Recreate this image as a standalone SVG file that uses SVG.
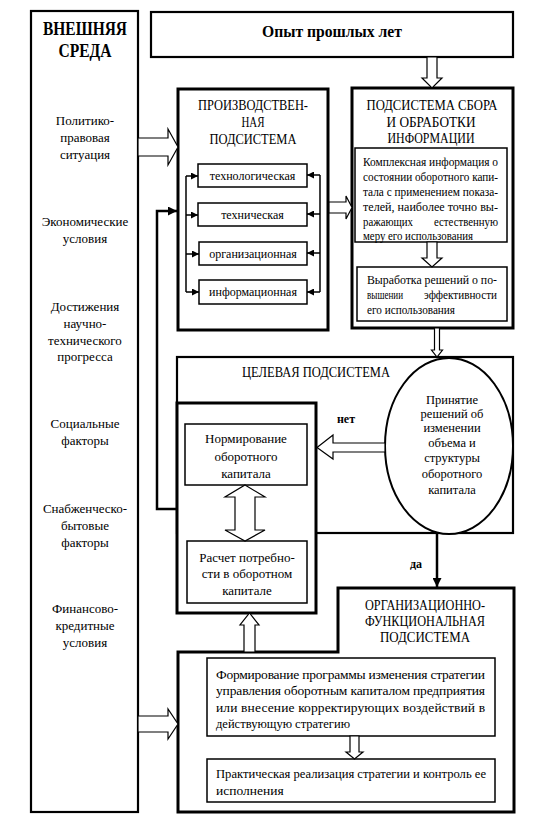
<svg xmlns="http://www.w3.org/2000/svg" width="553" height="819" viewBox="0 0 553 819">
<defs>
<style>
.dg-box{fill:#fff;stroke:#000;stroke-width:1.5}
.dg-thick{fill:#fff;stroke:#000;stroke-width:3}
.dg-med{fill:#fff;stroke:#000;stroke-width:2.2}
.dg-ha{fill:#fff;stroke:#000;stroke-width:1.2}
.dg-ln{fill:none;stroke:#000;stroke-width:1.5}
.dg-fl{fill:none;stroke:#000;stroke-width:2.5}
</style>
<marker id="ah" viewBox="0 0 10 10" refX="10" refY="5" markerWidth="7" markerHeight="7" markerUnits="userSpaceOnUse" orient="auto">
<path d="M0,0 L10,5 L0,10 z" fill="#000"/>
</marker>
<marker id="ahb" viewBox="0 0 10 10" refX="10" refY="5" markerWidth="9" markerHeight="9" markerUnits="userSpaceOnUse" orient="auto">
<path d="M0,0 L10,5 L0,10 z" fill="#000"/>
</marker>
</defs>
<rect width="553" height="819" fill="#fff"/>

<g id="env">
<rect x="31" y="11" width="107" height="801" class="dg-med"/>
<text x="85" y="35" font-family="Liberation Serif" font-weight="bold" font-size="18" text-anchor="middle" textLength="84" lengthAdjust="spacingAndGlyphs">ВНЕШНЯЯ</text>
<text x="85" y="57" font-family="Liberation Serif" font-weight="bold" font-size="18" text-anchor="middle" textLength="53" lengthAdjust="spacingAndGlyphs">СРЕДА</text>
<text x="85" y="125" font-family="Liberation Serif" font-size="13" text-anchor="middle">Политико-</text>
<text x="85" y="142" font-family="Liberation Serif" font-size="13" text-anchor="middle">правовая</text>
<text x="85" y="159" font-family="Liberation Serif" font-size="13" text-anchor="middle">ситуация</text>
<text x="85" y="226" font-family="Liberation Serif" font-size="13" text-anchor="middle">Экономические</text>
<text x="85" y="243" font-family="Liberation Serif" font-size="13" text-anchor="middle">условия</text>
<text x="85" y="311" font-family="Liberation Serif" font-size="13" text-anchor="middle">Достижения</text>
<text x="85" y="328" font-family="Liberation Serif" font-size="13" text-anchor="middle">научно-</text>
<text x="85" y="345" font-family="Liberation Serif" font-size="13" text-anchor="middle">технического</text>
<text x="85" y="361" font-family="Liberation Serif" font-size="13" text-anchor="middle">прогресса</text>
<text x="85" y="428" font-family="Liberation Serif" font-size="13" text-anchor="middle">Социальные</text>
<text x="85" y="445" font-family="Liberation Serif" font-size="13" text-anchor="middle">факторы</text>
<text x="85" y="513" font-family="Liberation Serif" font-size="13" text-anchor="middle">Снабженческо-</text>
<text x="85" y="530" font-family="Liberation Serif" font-size="13" text-anchor="middle">бытовые</text>
<text x="85" y="547" font-family="Liberation Serif" font-size="13" text-anchor="middle">факторы</text>
<text x="85" y="613" font-family="Liberation Serif" font-size="13" text-anchor="middle">Финансово-</text>
<text x="85" y="630" font-family="Liberation Serif" font-size="13" text-anchor="middle">кредитные</text>
<text x="85" y="647" font-family="Liberation Serif" font-size="13" text-anchor="middle">условия</text>
</g>

<g id="experience">
<rect x="151" y="12" width="362" height="45" class="dg-med"/>
<text x="332" y="37" font-family="Liberation Serif" font-weight="bold" font-size="16.5" text-anchor="middle" textLength="140" lengthAdjust="spacingAndGlyphs">Опыт прошлых лет</text>
</g>

<g id="production">
<rect x="178" y="89" width="150" height="241" class="dg-thick"/>
<text x="253" y="110" font-family="Liberation Serif" font-size="15" text-anchor="middle" textLength="110" lengthAdjust="spacingAndGlyphs">ПРОИЗВОДСТВЕН-</text>
<text x="253" y="127" font-family="Liberation Serif" font-size="15" text-anchor="middle" textLength="23" lengthAdjust="spacingAndGlyphs">НАЯ</text>
<text x="253" y="144" font-family="Liberation Serif" font-size="15" text-anchor="middle" textLength="87" lengthAdjust="spacingAndGlyphs">ПОДСИСТЕМА</text>
<rect x="198" y="164" width="109" height="23" class="dg-box"/>
<rect x="198" y="203" width="109" height="23" class="dg-box"/>
<rect x="199" y="242" width="108" height="23" class="dg-box"/>
<rect x="199" y="280" width="108" height="24" class="dg-box"/>
<text x="252.5" y="180" font-family="Liberation Serif" font-size="12" text-anchor="middle">технологическая</text>
<text x="252.5" y="219" font-family="Liberation Serif" font-size="12" text-anchor="middle">техническая</text>
<text x="253" y="258" font-family="Liberation Serif" font-size="12" text-anchor="middle">организационная</text>
<text x="253" y="296" font-family="Liberation Serif" font-size="12" text-anchor="middle">информационная</text>
</g>

<g id="info">
<rect x="352" y="88" width="161" height="240" class="dg-thick"/>
<text x="432" y="110" font-family="Liberation Serif" font-size="15" text-anchor="middle" textLength="131" lengthAdjust="spacingAndGlyphs">ПОДСИСТЕМА СБОРА</text>
<text x="431" y="127" font-family="Liberation Serif" font-size="15" text-anchor="middle" textLength="89" lengthAdjust="spacingAndGlyphs">И ОБРАБОТКИ</text>
<text x="431" y="143" font-family="Liberation Serif" font-size="15" text-anchor="middle" textLength="87" lengthAdjust="spacingAndGlyphs">ИНФОРМАЦИИ</text>
<rect x="355" y="148" width="152" height="94" class="dg-box"/>
<text x="363" y="166" font-family="Liberation Serif" font-size="11.5" textLength="135" lengthAdjust="spacingAndGlyphs">Комплексная информация о</text>
<text x="363" y="181" font-family="Liberation Serif" font-size="11.5" textLength="135" lengthAdjust="spacingAndGlyphs">состоянии оборотного капи-</text>
<text x="363" y="196" font-family="Liberation Serif" font-size="11.5" textLength="135" lengthAdjust="spacingAndGlyphs">тала с применением показа-</text>
<text x="363" y="211" font-family="Liberation Serif" font-size="11.5" textLength="135" lengthAdjust="spacingAndGlyphs">телей, наиболее точно вы-</text>
<text x="363" y="226" font-family="Liberation Serif" font-size="11.5" textLength="50" lengthAdjust="spacingAndGlyphs">ражающих</text>
<text x="434" y="226" font-family="Liberation Serif" font-size="11.5" textLength="64" lengthAdjust="spacingAndGlyphs">естественную</text>
<text x="363" y="240" font-family="Liberation Serif" font-size="11.5" textLength="110" lengthAdjust="spacingAndGlyphs">меру его использования</text>
<rect x="357" y="267" width="150" height="54" class="dg-box"/>
<text x="367" y="284" font-family="Liberation Serif" font-size="13" textLength="130" lengthAdjust="spacingAndGlyphs">Выработка решений о по-</text>
<text x="367" y="299" font-family="Liberation Serif" font-size="13" textLength="36" lengthAdjust="spacingAndGlyphs">вышении</text>
<text x="424" y="299" font-family="Liberation Serif" font-size="13" textLength="73" lengthAdjust="spacingAndGlyphs">эффективности</text>
<text x="367" y="314" font-family="Liberation Serif" font-size="13" textLength="88" lengthAdjust="spacingAndGlyphs">его использования</text>
</g>

<g id="target">
<rect x="177" y="357" width="336" height="176" class="dg-med"/>
<text x="316" y="377" font-family="Liberation Serif" font-size="15" text-anchor="middle" textLength="148" lengthAdjust="spacingAndGlyphs">ЦЕЛЕВАЯ ПОДСИСТЕМА</text>
<rect x="177" y="403" width="139" height="210" class="dg-thick"/>
<rect x="185" y="424" width="122" height="61" class="dg-box"/>
<text x="246" y="443" font-family="Liberation Serif" font-size="13" text-anchor="middle">Нормирование</text>
<text x="246" y="461" font-family="Liberation Serif" font-size="13" text-anchor="middle">оборотного</text>
<text x="246" y="478" font-family="Liberation Serif" font-size="13" text-anchor="middle">капитала</text>
<rect x="187" y="541" width="120" height="62" class="dg-box"/>
<text x="247" y="562" font-family="Liberation Serif" font-size="13" text-anchor="middle">Расчет потребно-</text>
<text x="247" y="578" font-family="Liberation Serif" font-size="13" text-anchor="middle">сти в оборотном</text>
<text x="247" y="595" font-family="Liberation Serif" font-size="13" text-anchor="middle">капитале</text>
</g>

<g id="decision">
<ellipse cx="449" cy="446" rx="64" ry="88" fill="#fff" stroke="#000" stroke-width="2"/>
<text x="452" y="404" font-family="Liberation Serif" font-size="12.5" text-anchor="middle">Принятие</text>
<text x="452" y="418" font-family="Liberation Serif" font-size="12.5" text-anchor="middle">решений об</text>
<text x="452" y="432" font-family="Liberation Serif" font-size="12.5" text-anchor="middle">изменении</text>
<text x="452" y="447" font-family="Liberation Serif" font-size="12.5" text-anchor="middle">объема и</text>
<text x="452" y="462" font-family="Liberation Serif" font-size="12.5" text-anchor="middle">структуры</text>
<text x="452" y="478" font-family="Liberation Serif" font-size="12.5" text-anchor="middle">оборотного</text>
<text x="452" y="494" font-family="Liberation Serif" font-size="12.5" text-anchor="middle">капитала</text>
</g>

<g id="orgfunc">
<path d="M338,588 H514 V812 H178 V652 H338 Z" class="dg-thick"/>
<text x="425" y="610" font-family="Liberation Serif" font-size="15" text-anchor="middle" textLength="120" lengthAdjust="spacingAndGlyphs">ОРГАНИЗАЦИОННО-</text>
<text x="425" y="626" font-family="Liberation Serif" font-size="15" text-anchor="middle" textLength="120" lengthAdjust="spacingAndGlyphs">ФУНКЦИОНАЛЬНАЯ</text>
<text x="425" y="642" font-family="Liberation Serif" font-size="15" text-anchor="middle" textLength="90" lengthAdjust="spacingAndGlyphs">ПОДСИСТЕМА</text>
<rect x="207" y="658" width="288" height="78" class="dg-box"/>
<text x="216" y="679" font-family="Liberation Serif" font-size="13.5" textLength="269" lengthAdjust="spacing">Формирование программы изменения стратегии</text>
<text x="216" y="695" font-family="Liberation Serif" font-size="13.5" textLength="269" lengthAdjust="spacing">управления оборотным капиталом предприятия</text>
<text x="216" y="712" font-family="Liberation Serif" font-size="13.5" textLength="269" lengthAdjust="spacing">или внесение корректирующих воздействий в</text>
<text x="216" y="728" font-family="Liberation Serif" font-size="13.5" textLength="134" lengthAdjust="spacingAndGlyphs">действующую стратегию</text>
<rect x="207" y="759" width="288" height="43" class="dg-box"/>
<text x="216" y="778" font-family="Liberation Serif" font-size="13.5" textLength="270" lengthAdjust="spacingAndGlyphs">Практическая реализация стратегии и контроль ее</text>
<text x="216" y="795" font-family="Liberation Serif" font-size="13.5">исполнения</text>
</g>

<g id="connectors">
<polygon class="dg-ha" points="138,138 168,138 168,129 178,147 168,165 168,156 138,156"/>
<polygon class="dg-ha" points="138,716 168,716 168,709 178,724 168,739 168,732 138,732"/>
<polygon class="dg-ha" points="329,202 346,202 346,196 352,207.5 346,219 346,213 329,213"/>
<polygon class="dg-ha" points="427,57 437,57 437,78 442,78 432,88 422,78 427,78"/>
<polygon class="dg-ha" points="427,242 437,242 437,258 442,258 432,267 422,258 427,258"/>
<polygon class="dg-ha" points="434.5,328 439.5,328 439.5,350 442.5,350 437,357 431.5,350 434.5,350"/>
<polygon class="dg-ha" points="245,485 265,497 255,497 255,530 265,530 245,541 225,530 235,530 235,497 225,497"/>
<polygon class="dg-ha" points="385,443 333,443 333,435 317,447.5 333,459 333,452 385,452"/>
<polygon class="dg-ha" points="244,652 244,625 240,625 249.5,613 259,625 255,625 255,652"/>
<polygon class="dg-ha" points="350,736 359,736 359,752 363,752 354.5,759 346,752 350,752"/>
<line x1="437" y1="534" x2="437" y2="587" stroke="#000" stroke-width="2.5" marker-end="url(#ahb)"/>
<polyline class="dg-fl" points="177,509 157,509 157,211 177,211" marker-end="url(#ahb)"/>
<line class="dg-ln" x1="186" y1="176" x2="186" y2="292"/>
<line class="dg-ln" x1="186" y1="176" x2="198" y2="176" marker-end="url(#ah)"/>
<line class="dg-ln" x1="186" y1="215" x2="198" y2="215" marker-end="url(#ah)"/>
<line class="dg-ln" x1="186" y1="254" x2="199" y2="254" marker-end="url(#ah)"/>
<line class="dg-ln" x1="186" y1="292" x2="199" y2="292" marker-end="url(#ah)"/>
<line class="dg-ln" x1="320" y1="175" x2="320" y2="292"/>
<line class="dg-ln" x1="320" y1="175" x2="307" y2="175" marker-end="url(#ah)"/>
<line class="dg-ln" x1="320" y1="214" x2="307" y2="214" marker-end="url(#ah)"/>
<line class="dg-ln" x1="320" y1="253" x2="307" y2="253" marker-end="url(#ah)"/>
<line class="dg-ln" x1="320" y1="292" x2="307" y2="292" marker-end="url(#ah)"/>
<text x="346" y="423" font-family="Liberation Serif" font-weight="bold" font-size="12" text-anchor="middle">нет</text>
<text x="416" y="568" font-family="Liberation Serif" font-weight="bold" font-size="12" text-anchor="middle">да</text>
</g>
</svg>
